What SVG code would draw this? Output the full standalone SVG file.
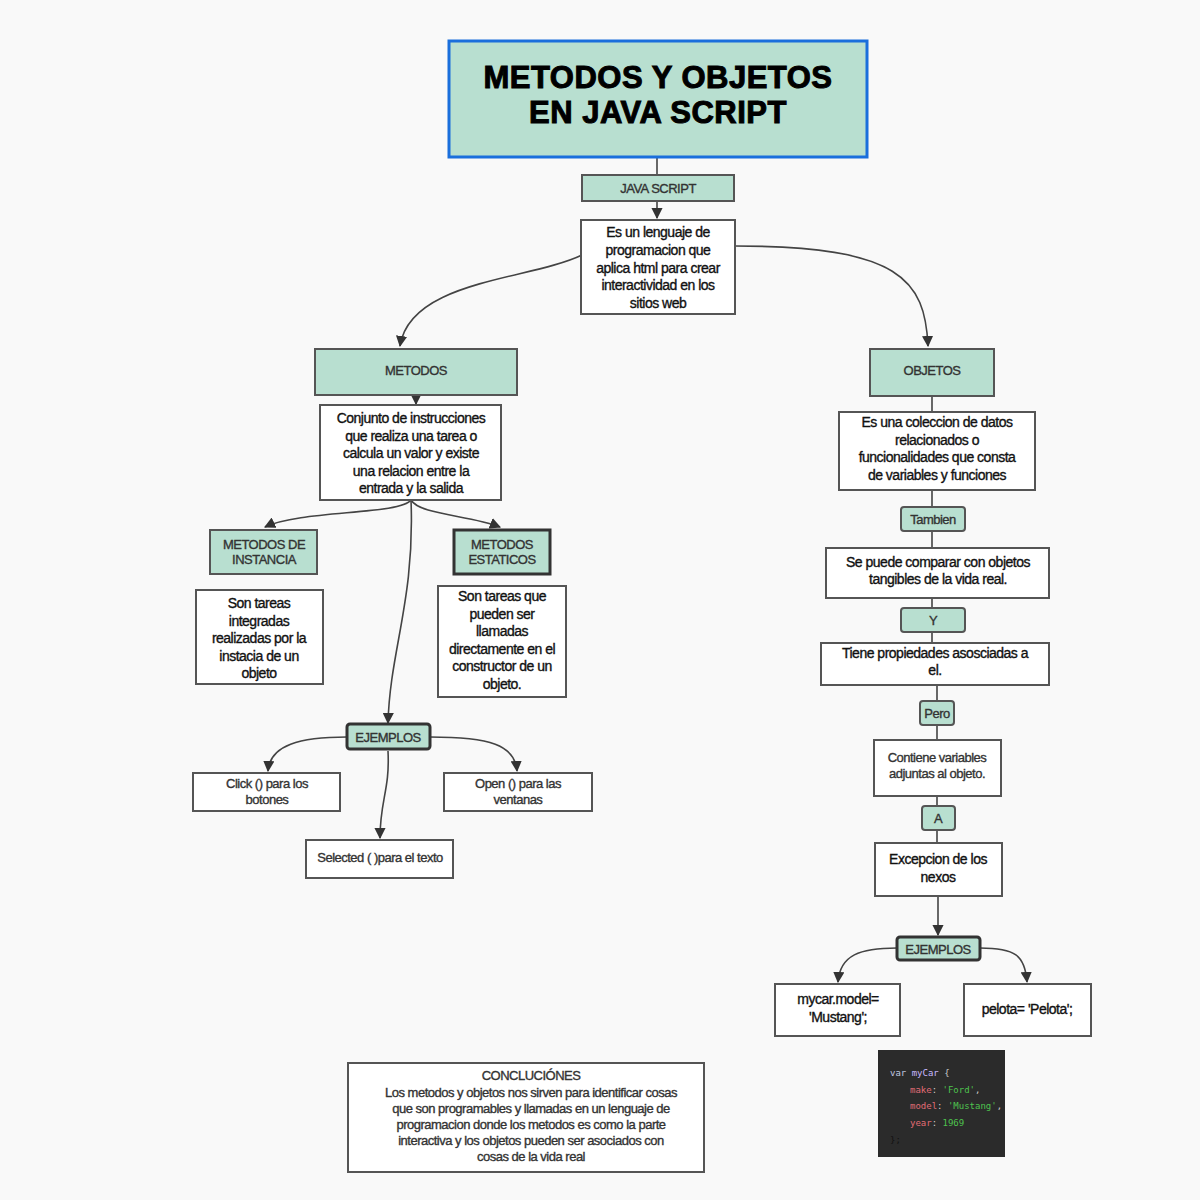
<svg xmlns="http://www.w3.org/2000/svg" width="1200" height="1200" viewBox="0 0 1200 1200">
<defs>
<marker id="ar" viewBox="0 0 10 10" refX="9" refY="5" markerWidth="7" markerHeight="7" orient="auto"><path d="M0,0 L10,5 L0,10 z" fill="#333"/></marker>
<style>
.w{fill:#fff;stroke:#555;stroke-width:2}
.g{fill:#b8dfd0;stroke:#555;stroke-width:2}
.gd{fill:#b8dfd0;stroke:#333;stroke-width:3}
text{font-family:"Liberation Sans",Arial,sans-serif;font-size:14px;fill:#111;stroke:#111;stroke-width:0.35;text-anchor:middle;letter-spacing:-0.5px}
.h{font-size:13px;fill:#333;stroke:#333}
.c{stroke:#444;stroke-width:1.6;fill:none}
.a{stroke:#444;stroke-width:1.6;fill:none;marker-end:url(#ar)}
.m{font-family:"DejaVu Sans Mono",monospace;font-size:9px;text-anchor:start;letter-spacing:0;stroke:none}
.t{font-size:31px;font-weight:900;letter-spacing:0.5px;fill:#000;stroke:#000;stroke-width:1}
</style>
</defs>
<rect width="1200" height="1200" fill="#f9f9f9"/>
<g id="connectors">
<path class="c" d="M657,157 V175"/>
<path class="a" d="M657,201 V218"/>
<path class="a" d="M582,255 C530,280 410,280 400,346"/>
<path class="a" d="M735,246 C900,246 925,280 928,346"/>
<path class="a" d="M416,394 V404"/>
<path class="a" d="M411,500 C400,515 300,510 265,527"/>
<path class="a" d="M411,500 C420,515 470,515 500,527"/>
<path class="a" d="M411,500 C415,600 390,650 388,723"/>
<path class="a" d="M347,737 C300,737 270,745 268,771"/>
<path class="a" d="M430,737 C490,737 515,745 517,771"/>
<path class="a" d="M388,751 C390,790 380,800 380,838"/>
<path class="c" d="M932,396 V412 M932,490 V506 M932,531 V547 M932,598 V608 M932,632 V643 M937,685 V700 M937,725 V740 M937,796 V806 M937,830 V842"/>
<path class="a" d="M938,896 V935"/>
<path class="a" d="M897,948 C860,948 840,955 838,982"/>
<path class="a" d="M980,948 C1015,948 1025,955 1027,982"/>
</g>
<g id="title"><rect x="449" y="41" width="418" height="116" fill="#b8dfd0" stroke="#1a6fdc" stroke-width="3"/>
<text class="t" x="658" y="88">METODOS Y OBJETOS</text>
<text class="t" x="658" y="123">EN JAVA SCRIPT</text></g>
<g id="js"><rect class="g" x="582" y="175" width="152" height="26"/><text class="h" x="658" y="193">JAVA SCRIPT</text></g>
<g id="jsdef"><rect class="w" x="581" y="220" width="154" height="94"/><text x="658" y="237">Es un lenguaje de</text><text x="658" y="255">programacion que</text><text x="658" y="273">aplica html para crear</text><text x="658" y="290">interactividad en los</text><text x="658" y="308">sitios web</text></g>
<g id="metodos"><rect class="g" x="315" y="349" width="202" height="46"/><text class="h" x="416" y="375">METODOS</text></g>
<g id="metdef"><rect class="w" x="320" y="405" width="181" height="95"/><text x="411" y="423">Conjunto de instrucciones</text><text x="411" y="441">que realiza una tarea o</text><text x="411" y="458">calcula un valor y existe</text><text x="411" y="476">una relacion entre la</text><text x="411" y="493">entrada y la salida</text></g>
<g id="mi"><rect class="g" x="210" y="530" width="107" height="44"/><text class="h" x="264" y="549">METODOS DE</text><text class="h" x="264" y="564">INSTANCIA</text></g>
<g id="mid"><rect class="w" x="196" y="590" width="127" height="94"/><text x="259" y="608">Son tareas</text><text x="259" y="626">integradas</text><text x="259" y="643">realizadas por la</text><text x="259" y="661">instacia de un</text><text x="259" y="678">objeto</text></g>
<g id="me"><rect class="gd" x="454" y="530" width="96" height="44"/><text class="h" x="502" y="549">METODOS</text><text class="h" x="502" y="564">ESTATICOS</text></g>
<g id="med"><rect class="w" x="438" y="586" width="128" height="111"/><text x="502" y="601">Son tareas que</text><text x="502" y="619">pueden ser</text><text x="502" y="636">llamadas</text><text x="502" y="654">directamente en el</text><text x="502" y="671">constructor de un</text><text x="502" y="689">objeto.</text></g>
<g id="ej1"><rect class="gd" x="347" y="724" width="83" height="25" rx="3"/><text class="h" x="388" y="742">EJEMPLOS</text></g>
<g id="click"><rect class="w" x="193" y="773" width="147" height="38"/><text class="h" x="267" y="788">Click () para los</text><text class="h" x="267" y="804">botones</text></g>
<g id="open"><rect class="w" x="444" y="773" width="148" height="38"/><text class="h" x="518" y="788">Open () para las</text><text class="h" x="518" y="804">ventanas</text></g>
<g id="sel"><rect class="w" x="306" y="840" width="147" height="38"/><text class="h" x="380" y="862">Selected ( )para el texto</text></g>
<g id="objetos"><rect class="g" x="870" y="349" width="124" height="47"/><text class="h" x="932" y="375">OBJETOS</text></g>
<g id="objdef"><rect class="w" x="839" y="412" width="196" height="78"/><text x="937" y="427">Es una coleccion de datos</text><text x="937" y="445">relacionados o</text><text x="937" y="462">funcionalidades que consta</text><text x="937" y="480">de variables y funciones</text></g>
<g id="tambien"><rect class="g" x="901" y="507" width="64" height="24" rx="3"/><text class="h" x="933" y="524">Tambien</text></g>
<g id="comp"><rect class="w" x="826" y="548" width="223" height="50"/><text x="938" y="567">Se puede comparar con objetos</text><text x="938" y="584">tangibles de la vida real.</text></g>
<g id="y"><rect class="g" x="901" y="608" width="64" height="24" rx="3"/><text class="h" x="933" y="625">Y</text></g>
<g id="tiene"><rect class="w" x="821" y="643" width="228" height="42"/><text x="935" y="658">Tiene propiedades asosciadas a</text><text x="935" y="675">el.</text></g>
<g id="pero"><rect class="g" x="920" y="701" width="34" height="24" rx="3"/><text class="h" x="937" y="718">Pero</text></g>
<g id="cont"><rect class="w" x="874" y="740" width="127" height="56"/><text class="h" x="937" y="762">Contiene variables</text><text class="h" x="937" y="778">adjuntas al objeto.</text></g>
<g id="a"><rect class="g" x="922" y="806" width="33" height="24" rx="3"/><text class="h" x="938" y="823">A</text></g>
<g id="exc"><rect class="w" x="875" y="843" width="127" height="53"/><text x="938" y="864">Excepcion de los</text><text x="938" y="882">nexos</text></g>
<g id="ej2"><rect class="gd" x="897" y="937" width="83" height="23" rx="3"/><text class="h" x="938" y="954">EJEMPLOS</text></g>
<g id="mycar"><rect class="w" x="775" y="984" width="125" height="52"/><text x="838" y="1004">mycar.model=</text><text x="838" y="1022">'Mustang';</text></g>
<g id="pelota"><rect class="w" x="964" y="984" width="127" height="52"/><text x="1027" y="1014">pelota= 'Pelota';</text></g>
<g id="code"><rect x="878" y="1050" width="127" height="107" fill="#2b2b2b"/>
<text class="m" x="890" y="1076"><tspan fill="#c0c8e0">var </tspan><tspan fill="#c8b8ff">myCar</tspan><tspan fill="#ccc">   {</tspan></text>
<text class="m" x="910" y="1093"><tspan fill="#e06c75">make</tspan><tspan fill="#ccc">: </tspan><tspan fill="#4ec24e">'Ford'</tspan><tspan fill="#ccc">,</tspan></text>
<text class="m" x="910" y="1109"><tspan fill="#e06c75">model</tspan><tspan fill="#ccc">: </tspan><tspan fill="#4ec24e">'Mustang'</tspan><tspan fill="#ccc">,</tspan></text>
<text class="m" x="910" y="1126"><tspan fill="#e06c75">year</tspan><tspan fill="#ccc">: </tspan><tspan fill="#4ec24e">1969</tspan></text>
<text class="m" x="890" y="1143" fill="#ccc">};</text></g>
<g id="concl"><rect class="w" x="348" y="1063" width="356" height="109"/><text class="h" x="531" y="1080">CONCLUCIÓNES</text><text class="h" x="531" y="1097">Los metodos y objetos nos sirven para identificar cosas</text><text class="h" x="531" y="1113">que son programables y llamadas en un lenguaje de</text><text class="h" x="531" y="1129">programacion donde los metodos es como la parte</text><text class="h" x="531" y="1145">interactiva y los objetos pueden ser asociados con</text><text class="h" x="531" y="1161">cosas de la vida real</text></g>
</svg>
